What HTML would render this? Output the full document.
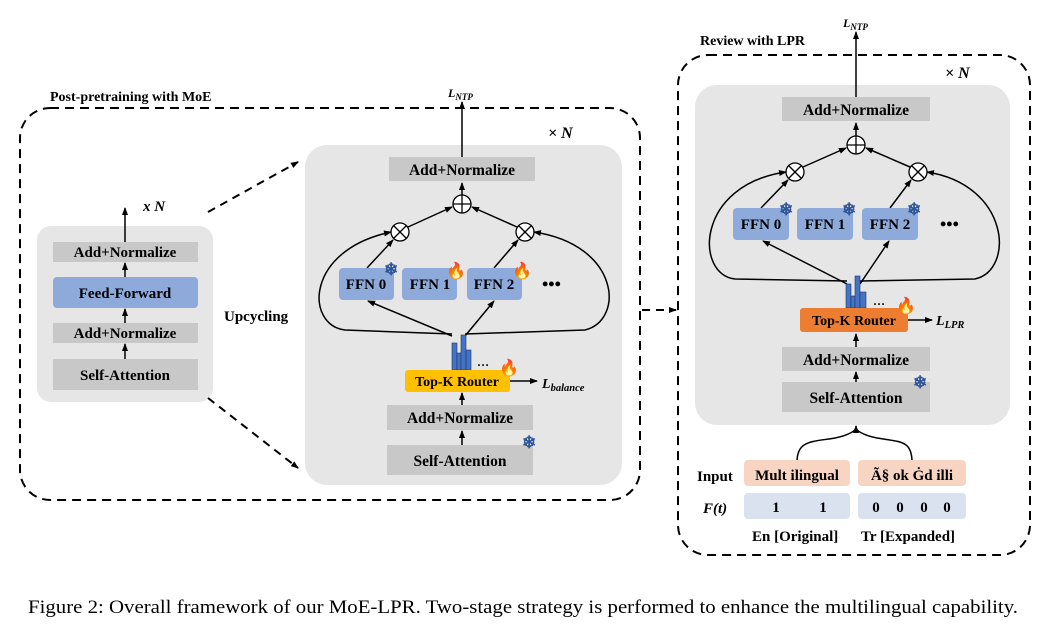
<!DOCTYPE html>
<html><head><meta charset="utf-8"><style>
html,body{margin:0;padding:0;background:#fff;}
svg text{font-family:"Liberation Serif",serif;font-weight:bold;}
</style></head><body>
<svg width="1051" height="634" viewBox="0 0 1051 634" xmlns="http://www.w3.org/2000/svg">
<defs>
<marker id="a" markerWidth="8" markerHeight="8" refX="7" refY="4" orient="auto" markerUnits="userSpaceOnUse"><path d="M0,1 L8,4 L0,7 Z" fill="#000"/></marker>
</defs>
<rect x="20" y="108" width="620" height="392" rx="30" fill="none" stroke="#000" stroke-width="2" stroke-dasharray="9,6"/>
<text x="50" y="101" font-size="14">Post-pretraining with MoE</text>
<rect x="37" y="226" width="176" height="176" rx="14" fill="#e6e6e6"/>
<rect x="53" y="242" width="145" height="20" fill="#c8c8c8"/>
<text x="125" y="257" font-size="15" text-anchor="middle">Add+Normalize</text>
<rect x="53" y="277" width="145" height="31" rx="4" fill="#8eaadb"/>
<text x="125" y="298" font-size="15" text-anchor="middle">Feed-Forward</text>
<rect x="53" y="323" width="145" height="20" fill="#c8c8c8"/>
<text x="125" y="338" font-size="15" text-anchor="middle">Add+Normalize</text>
<rect x="53" y="359" width="145" height="31" fill="#c8c8c8"/>
<text x="125" y="380" font-size="15" text-anchor="middle">Self-Attention</text>
<g stroke="#000" stroke-width="1.5" marker-end="url(#a)">
<line x1="125" y1="359" x2="125" y2="344"/><line x1="125" y1="323" x2="125" y2="309"/><line x1="125" y1="277" x2="125" y2="263"/><line x1="125" y1="242" x2="125" y2="208"/>
</g>
<text x="143" y="211" font-size="15" font-style="italic">x N</text>
<text x="224" y="321" font-size="15">Upcycling</text>
<g stroke="#000" stroke-width="2" stroke-dasharray="8,6" marker-end="url(#a)" fill="none">
<line x1="208" y1="212" x2="298" y2="162"/>
<line x1="208" y1="398" x2="298" y2="468"/>
<line x1="642" y1="310" x2="676" y2="310"/>
</g>
<rect x="305" y="145" width="317" height="340" rx="22" fill="#e6e6e6"/>
<text x="548" y="138" font-size="16" font-style="italic">× N</text>
<rect x="389" y="157" width="146" height="24" fill="#c8c8c8"/>
<text x="462" y="175" font-size="15.5" text-anchor="middle">Add+Normalize</text>
<line x1="462" y1="157" x2="462" y2="102" stroke="#000" stroke-width="1.5" marker-end="url(#a)"/>
<text x="448" y="97" font-size="12" font-style="italic">L<tspan font-size="9" dy="3">NTP</tspan></text>
<g stroke="#000" stroke-width="1.3" fill="none">
<circle cx="462" cy="204" r="9" fill="#fff"/><line x1="453" y1="204" x2="471" y2="204"/><line x1="462" y1="195" x2="462" y2="213"/>
<circle cx="400" cy="232" r="9" fill="#fff"/><line x1="394" y1="226" x2="406" y2="238"/><line x1="406" y1="226" x2="394" y2="238"/>
<circle cx="525" cy="232" r="9" fill="#fff"/><line x1="519" y1="226" x2="531" y2="238"/><line x1="531" y1="226" x2="519" y2="238"/>
</g>
<g stroke="#000" stroke-width="1.5" fill="none" marker-end="url(#a)">
<line x1="462" y1="195" x2="462" y2="183"/>
<line x1="408" y1="227" x2="452" y2="207"/>
<line x1="517" y1="227" x2="472" y2="207"/>
<line x1="367" y1="268" x2="393" y2="240"/>
<line x1="494" y1="268" x2="518" y2="240"/>
<line x1="452" y1="336" x2="368" y2="301"/>
<line x1="465" y1="336" x2="494" y2="301"/>
<path d="M452,334 L345,330 C305,325 305,250 391,232"/>
<path d="M465,334 L585,330 C625,320 620,245 534,232"/>
<line x1="462" y1="445" x2="462" y2="431"/>
<line x1="462" y1="405" x2="462" y2="393"/>
<line x1="510" y1="381" x2="537" y2="381"/>
</g>
<rect x="339" y="268" width="55" height="32" rx="4" fill="#8eaadb"/><text x="366" y="289" font-size="15" text-anchor="middle">FFN 0</text>
<rect x="402" y="268" width="55" height="32" rx="4" fill="#8eaadb"/><text x="430" y="289" font-size="15" text-anchor="middle">FFN 1</text>
<rect x="467" y="268" width="55" height="32" rx="4" fill="#8eaadb"/><text x="494" y="289" font-size="15" text-anchor="middle">FFN 2</text>
<text x="542" y="290" font-size="18">•••</text>
<text x="384" y="275" font-size="17" fill="#2f5597">❄</text>
<text x="446" y="276" font-size="16" fill="#f00">🔥</text>
<text x="512" y="276" font-size="16" fill="#f00">🔥</text>
<g fill="#4472c4" stroke="#1f3864" stroke-width="0.6">
<rect x="452" y="343" width="5" height="27"/><rect x="457" y="353" width="4" height="17"/><rect x="461" y="335" width="5" height="35"/><rect x="466" y="350" width="5" height="20"/>
</g>
<text x="477" y="366" font-size="12">…</text>
<rect x="405" y="370" width="105" height="22" rx="3" fill="#ffc000"/>
<text x="457" y="386" font-size="14" text-anchor="middle">Top-K Router</text>
<text x="499" y="373" font-size="16" fill="#f00">🔥</text>
<text x="542" y="388" font-size="14" font-style="italic">L<tspan font-size="10.5" dy="3">balance</tspan></text>
<rect x="387" y="405" width="146" height="25" fill="#c8c8c8"/>
<text x="460" y="423" font-size="15.5" text-anchor="middle">Add+Normalize</text>
<rect x="387" y="445" width="146" height="30" fill="#c8c8c8"/>
<text x="460" y="466" font-size="15.5" text-anchor="middle">Self-Attention</text>
<text x="522" y="448" font-size="17" fill="#2f5597">❄</text>
<rect x="678" y="55" width="352" height="500" rx="30" fill="none" stroke="#000" stroke-width="2" stroke-dasharray="9,6"/>
<text x="700" y="45" font-size="14">Review with LPR</text>
<rect x="695" y="85" width="315" height="340" rx="22" fill="#e6e6e6"/>
<text x="945" y="78" font-size="16" font-style="italic">× N</text>
<rect x="782" y="97" width="148" height="24" fill="#c8c8c8"/>
<text x="856" y="115" font-size="15.5" text-anchor="middle">Add+Normalize</text>
<line x1="856" y1="97" x2="856" y2="32" stroke="#000" stroke-width="1.5" marker-end="url(#a)"/>
<text x="843" y="27" font-size="12" font-style="italic">L<tspan font-size="9" dy="3">NTP</tspan></text>
<g stroke="#000" stroke-width="1.3" fill="none">
<circle cx="856" cy="145" r="9" fill="#fff"/><line x1="847" y1="145" x2="865" y2="145"/><line x1="856" y1="136" x2="856" y2="154"/>
<circle cx="795" cy="172" r="9" fill="#fff"/><line x1="789" y1="166" x2="801" y2="178"/><line x1="801" y1="166" x2="789" y2="178"/>
<circle cx="918" cy="172" r="9" fill="#fff"/><line x1="912" y1="166" x2="924" y2="178"/><line x1="924" y1="166" x2="912" y2="178"/>
</g>
<g stroke="#000" stroke-width="1.5" fill="none" marker-end="url(#a)">
<line x1="856" y1="136" x2="856" y2="123"/>
<line x1="803" y1="167" x2="846" y2="148"/>
<line x1="910" y1="167" x2="866" y2="148"/>
<line x1="761" y1="208" x2="788" y2="180"/>
<line x1="890" y1="208" x2="911" y2="180"/>
<line x1="847" y1="284" x2="763" y2="241"/>
<line x1="860" y1="284" x2="889" y2="241"/>
<path d="M847,281 L735,279 C695,275 695,185 786,172"/>
<path d="M860,281 L975,279 C1015,270 1010,185 927,172"/>
<line x1="856" y1="382" x2="856" y2="372"/>
<line x1="856" y1="347" x2="856" y2="334"/>
<line x1="908" y1="320" x2="932" y2="320"/>
<line x1="856" y1="432" x2="856" y2="426"/>
</g>
<rect x="733" y="208" width="56" height="32" rx="4" fill="#8eaadb"/><text x="761" y="229" font-size="15" text-anchor="middle">FFN 0</text>
<rect x="797" y="208" width="56" height="32" rx="4" fill="#8eaadb"/><text x="825" y="229" font-size="15" text-anchor="middle">FFN 1</text>
<rect x="862" y="208" width="56" height="32" rx="4" fill="#8eaadb"/><text x="890" y="229" font-size="15" text-anchor="middle">FFN 2</text>
<text x="940" y="230" font-size="18">•••</text>
<text x="779" y="215" font-size="17" fill="#2f5597">❄</text>
<text x="842" y="215" font-size="17" fill="#2f5597">❄</text>
<text x="907" y="215" font-size="17" fill="#2f5597">❄</text>
<g fill="#4472c4" stroke="#1f3864" stroke-width="0.6">
<rect x="846" y="284" width="5" height="24"/><rect x="851" y="296" width="4" height="12"/><rect x="855" y="276" width="5" height="32"/><rect x="860" y="292" width="6" height="16"/>
</g>
<text x="873" y="305" font-size="12">…</text>
<rect x="800" y="308" width="108" height="24" rx="3" fill="#ed7d31"/>
<text x="854" y="325" font-size="14" text-anchor="middle">Top-K Router</text>
<text x="896" y="311" font-size="16" fill="#f00">🔥</text>
<text x="936" y="325" font-size="14" font-style="italic">L<tspan font-size="10.5" dy="3">LPR</tspan></text>
<rect x="782" y="347" width="148" height="24" fill="#c8c8c8"/>
<text x="856" y="365" font-size="15.5" text-anchor="middle">Add+Normalize</text>
<rect x="782" y="382" width="148" height="30" fill="#c8c8c8"/>
<text x="856" y="403" font-size="15.5" text-anchor="middle">Self-Attention</text>
<text x="913" y="388" font-size="17" fill="#2f5597">❄</text>
<path d="M797,462 C797,440 812,442 835,438 C850,435 856,430 856,428 C856,430 862,435 877,438 C900,442 912,440 912,462" fill="none" stroke="#000" stroke-width="1.5"/>
<text x="697" y="481" font-size="15">Input</text>
<rect x="744" y="460" width="106" height="26" rx="4" fill="#f8d5c3"/>
<text x="797" y="480" font-size="15" text-anchor="middle">Mult ilingual</text>
<rect x="858" y="460" width="108" height="26" rx="4" fill="#f8d5c3"/>
<text x="912" y="480" font-size="15" text-anchor="middle">Ã§ ok  Ġd illi</text>
<text x="703" y="513" font-size="15" font-style="italic">F(t)</text>
<rect x="744" y="493" width="106" height="26" rx="4" fill="#dae1ef"/>
<text x="776" y="512" font-size="15" text-anchor="middle">1</text><text x="823" y="512" font-size="15" text-anchor="middle">1</text>
<rect x="858" y="493" width="108" height="26" rx="4" fill="#dae1ef"/>
<text x="876" y="512" font-size="15" text-anchor="middle">0</text><text x="900" y="512" font-size="15" text-anchor="middle">0</text><text x="924" y="512" font-size="15" text-anchor="middle">0</text><text x="947" y="512" font-size="15" text-anchor="middle">0</text>
<text x="752" y="541" font-size="15">En [Original]</text>
<text x="861" y="541" font-size="15">Tr [Expanded]</text>
<text x="28" y="613" font-size="19" textLength="990" lengthAdjust="spacingAndGlyphs" style="font-weight:normal">Figure 2: Overall framework of our MoE-LPR. Two-stage strategy is performed to enhance the multilingual capability.</text>
</svg>
</body></html>
